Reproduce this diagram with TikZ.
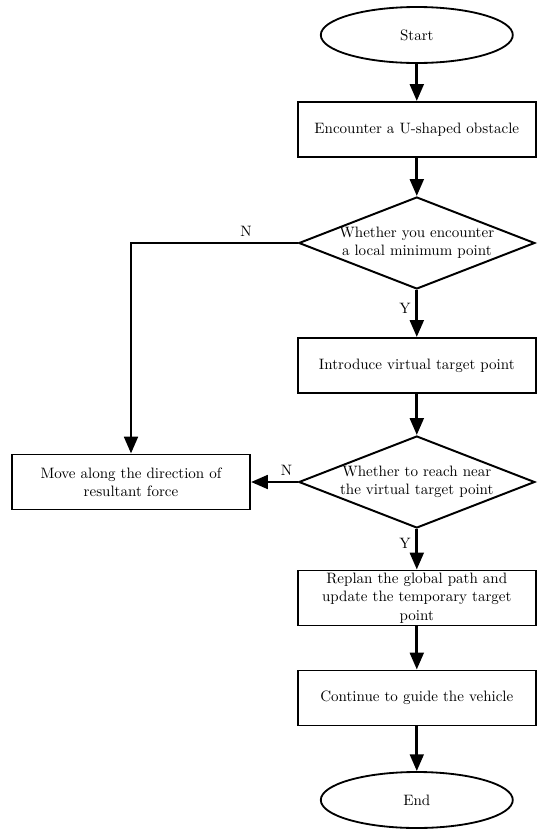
\documentclass[tikz,border=0pt]{standalone}
\usepackage{xcolor}
\usepackage{tikz}
\usetikzlibrary{positioning}
\usetikzlibrary{shapes.geometric}
\usetikzlibrary{arrows.meta}

\begin{document}
\begin{tikzpicture}[every node/.style={font=\fontsize{10.7pt}{13pt}\selectfont,align=center},on grid,
    terminal/.style={ellipse,draw,line width=1.3pt,minimum width=4.8cm,minimum height=1.4cm},
    process/.style={rectangle,draw,line width=1.4pt,minimum width=5.95cm,minimum height=1.375cm,inner sep=1pt},
    decision/.style={diamond,draw,line width=1.4pt,aspect=2.565,minimum width=5.9cm,minimum height=2.3cm,inner sep=-1pt},
    flow/.style={line width=2.1pt,-{Triangle[length=0.42cm,width=0.34cm]}}]
      \useasboundingbox (0,0) rectangle (13.75,-20.975);
      %%%%%%%%%%%%%%%%%%%%%%%%%%%%%%%%%%%%%%%%%%%%%%%%%%%%%%%%%%%%%%%%%%%%%%%%%%
      %%% BEGIN: MAIN COLUMN.
      %%%%%%%%%%%%%%%%%%%%%%%%%%%%%%%%%%%%%%%%%%%%%%%%%%%%%%%%%%%%%%%%%%%%%%%%%%
      \node[terminal] (start) at (10.42,-0.875) {Start};
      \node[process,below=2.3625cm of start] (meet) {Encounter a U-shaped obstacle};
      \node[decision,below=2.8375cm of meet] (local) {Whether you encounter\\a local minimum point};
      \node[process,below=3.0625cm of local] (intro) {Introduce virtual target point};
      \node[decision,below=2.9125cm of intro] (reach) {Whether to reach near\\the virtual target point};
      \node[process,below=2.9cm of reach] (replan) {Replan the global path and\\update the temporary target\\point};
      \node[process,below=2.5cm of replan] (guide) {Continue to guide the vehicle};
      \node[terminal,below=2.55cm of guide] (finish) {End};

      % Side branch.
      \node[process,left=7.145cm of reach] (move) {Move along the direction of\\resultant force};
      %%%%%%%%%%%%%%%%%%%%%%%%%%%%%%%%%%%%%%%%%%%%%%%%%%%%%%%%%%%%%%%%%%%%%%%%%%
      %%% END: MAIN COLUMN.
      %%%%%%%%%%%%%%%%%%%%%%%%%%%%%%%%%%%%%%%%%%%%%%%%%%%%%%%%%%%%%%%%%%%%%%%%%%

      % Arrows.
      \draw[flow] (start) -- (meet);
      \draw[flow] (meet) -- (local);
      \draw[flow] (local) -- node[left,pos=0.39] {Y} (intro);
      \draw[flow] (intro) -- (reach);
      \draw[flow] (reach) -- node[left,pos=0.35] {Y} (replan);
      \draw[flow] (replan) -- (guide);
      \draw[flow] (guide) -- (finish);
      \draw[flow] (reach.west) -- node[above,pos=0.24] {N} (move.east);
      \draw[flow] (local.west) -- node[above,pos=0.31] {N} (local.west -| move.north) -- (move.north);
    \end{tikzpicture}
\end{document}
